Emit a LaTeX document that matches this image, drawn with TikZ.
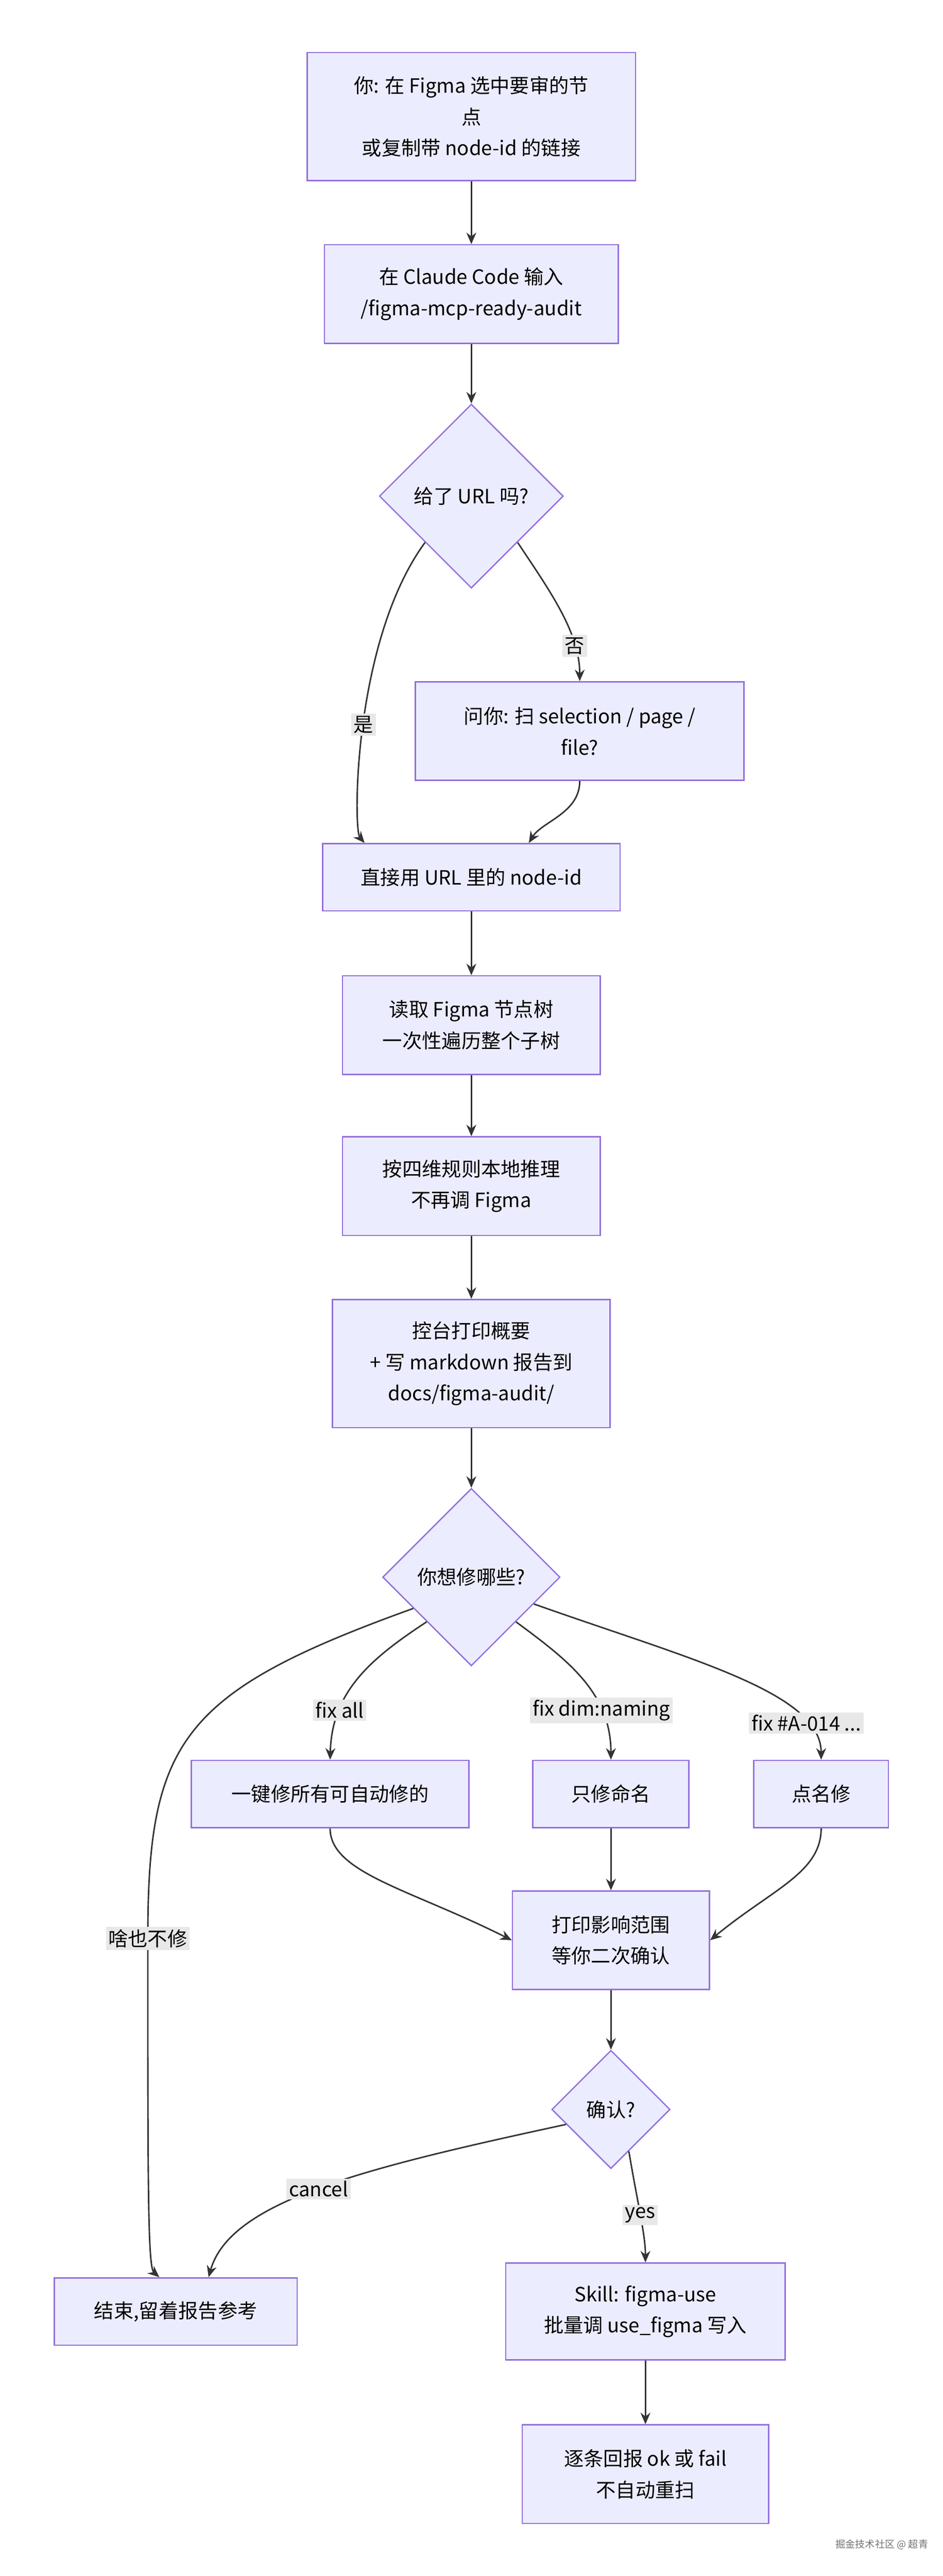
\documentclass[tikz,border=0pt]{standalone}
\usepackage{fontspec}
\setmainfont{Noto Sans CJK SC}
\usetikzlibrary{shapes.geometric,arrows.meta,calc}
\begin{document}
\begin{tikzpicture}[x=1pt,y=-1pt,
 box/.style={draw=violet!60!blue!60, fill=black!3!blue!7, line width=0.8pt, align=center, font=\fontsize{12}{19}\selectfont, inner sep=0pt},
 dia/.style={diamond, draw=violet!60!blue!60, fill=black!3!blue!7, line width=0.8pt, align=center, font=\fontsize{12}{16}\selectfont, inner sep=0pt, aspect=1},
 arr/.style={draw=black!80, line width=0.9pt, -{Stealth[length=7pt,width=6pt]}},
 lbl/.style={fill=black!9, font=\fontsize{12}{14}\selectfont, inner sep=1.5pt}]
\useasboundingbox (0,0) rectangle (574,1568);
\definecolor{bfill}{HTML}{ECECFF}\definecolor{bdraw}{HTML}{9370DB}
\tikzset{box/.append style={fill=bfill,draw=bdraw}, dia/.append style={fill=bfill,draw=bdraw}}
\node[box, minimum width=200, minimum height=78] (n1) at (287,71) {你: 在 Figma 选中要审的节\\点\\或复制带 node-id 的链接};
\node[box, minimum width=179, minimum height=60] (n2) at (287,179) {在 Claude Code 输入\\/figma-mcp-ready-audit};
\node[dia, minimum width=112, minimum height=112] (d1) at (287,302) {给了 URL 吗?};
\node[box, minimum width=200, minimum height=60] (n4) at (353,445) {问你: 扫 selection / page /\\file?};
\node[box, minimum width=181, minimum height=41] (n5) at (287,534) {直接用 URL 里的 node-id};
\node[box, minimum width=157, minimum height=60] (n6) at (287,624) {读取 Figma 节点树\\一次性遍历整个子树};
\node[box, minimum width=157, minimum height=60] (n7) at (287,722) {按四维规则本地推理\\不再调 Figma};
\node[box, minimum width=169, minimum height=78] (n8) at (287,830) {控台打印概要\\+ 写 markdown 报告到\\docs/figma-audit/};
\node[dia, minimum width=108, minimum height=108] (d2) at (287,960) {你想修哪些?};
\node[box, minimum width=169, minimum height=41] (n10) at (201,1092) {一键修所有可自动修的};
\node[box, minimum width=95, minimum height=41] (n11) at (372,1092) {只修命名};
\node[box, minimum width=82, minimum height=41] (n12) at (500,1092) {点名修};
\node[box, minimum width=120, minimum height=60] (n13) at (372,1181) {打印影响范围\\等你二次确认};
\node[dia, minimum width=72, minimum height=72] (d3) at (372,1284) {确认?};
\node[box, minimum width=148, minimum height=41] (n15) at (107,1407) {结束,留着报告参考};
\node[box, minimum width=170, minimum height=59] (n16) at (393,1407) {Skill: figma-use\\批量调 use\_figma 写入};
\node[box, minimum width=150, minimum height=60] (n17) at (393,1506) {逐条回报 ok 或 fail\\不自动重扫};
\node[font=\fontsize{6}{7}\selectfont, text=black!55] (wm) at (537,1549) {掘金技术社区 @ 超青};

\draw[arr] (n1) -- (n2);
\draw[arr] (n2) -- (d1);
\draw[arr] (d1.south west) .. controls (215,390) and (215,505) .. node[lbl,pos=0.5]{是} ([xshift=-65pt]n5.north);
\draw[arr] (d1.south east) .. controls (335,360) and (353,385) .. node[lbl,pos=0.75]{否} (n4.north);
\draw[arr] (n4.south) .. controls (353,495) and (330,500) .. ([xshift=35pt]n5.north);
\draw[arr] (n5) -- (n6);
\draw[arr] (n6) -- (n7);
\draw[arr] (n7) -- (n8);
\draw[arr] (n8) -- (d2);
\draw[arr] (d2.south west) .. controls (225,1010) and (202,1030) .. node[lbl,pos=0.72]{fix all} (n10.north);
\draw[arr] (d2.south east) .. controls (345,1010) and (372,1030) .. node[lbl,pos=0.72]{fix dim:naming} (n11.north);
\draw[arr] ($(d2.east)!0.3!(d2.south)$) .. controls (420,1010) and (500,1030) .. node[lbl,pos=0.8]{fix \#A-014 ...} (n12.north);
\draw[arr] ($(d2.west)!0.35!(d2.south)$) .. controls (110,1030) and (90,1060) .. (90,1180) node[lbl]{啥也不修} .. controls (90,1330) and (90,1380) .. ([xshift=-10pt]n15.north);
\draw[arr] (n10.south) .. controls (201,1140) and (250,1150) .. (n13.west);
\draw[arr] (n11) -- (n13);
\draw[arr] (n12.south) .. controls (500,1140) and (470,1150) .. (n13.east);
\draw[arr] (n13) -- (d3);
\draw[arr] ($(d3.west)!0.25!(d3.south)$) .. controls (220,1320) and (140,1340) .. node[lbl,pos=0.5]{cancel} ([xshift=20pt]n15.north);
\draw[arr] ($(d3.south)!0.3!(d3.east)$) .. controls (388,1340) and (393,1360) .. node[lbl,pos=0.5]{yes} (n16.north);
\draw[arr] (n16) -- (n17);
\end{tikzpicture}
\end{document}
